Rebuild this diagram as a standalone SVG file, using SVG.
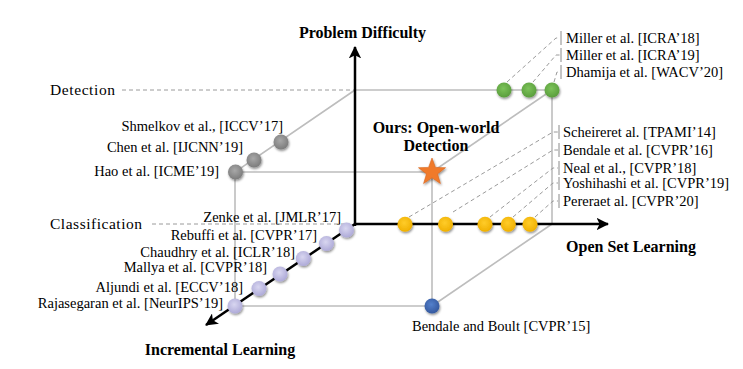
<svg xmlns="http://www.w3.org/2000/svg" width="743" height="369" viewBox="0 0 743 369">
<defs>
<style>
.t{font-family:"Liberation Serif","Times New Roman",serif;font-size:14.5px;fill:#000}
.b{font-family:"Liberation Serif","Times New Roman",serif;font-size:16px;font-weight:bold;fill:#000;text-anchor:middle}
.e{text-anchor:end}
.g{stroke:#bdbdbd;stroke-width:1.6;fill:none}
.d{stroke:#9a9a9a;stroke-width:1;stroke-dasharray:4 3;fill:none}
.tick{stroke:#8a8a8a;stroke-width:1;fill:none}
.ax{stroke:#000;stroke-width:2.5;fill:none}
.dot{filter:url(#sh)}
</style>
<filter id="sh" x="-50%" y="-50%" width="200%" height="200%">
<feDropShadow dx="0.8" dy="1.5" stdDeviation="1.3" flood-color="#000" flood-opacity="0.45"/>
</filter>
<radialGradient id="gGreen" cx="45%" cy="40%" r="60%"><stop offset="0" stop-color="#7cc35a"/><stop offset="1" stop-color="#5a9e3c"/></radialGradient>
<radialGradient id="gGray" cx="45%" cy="40%" r="60%"><stop offset="0" stop-color="#a8a8a8"/><stop offset="1" stop-color="#7c7c7c"/></radialGradient>
<radialGradient id="gPurple" cx="45%" cy="40%" r="60%"><stop offset="0" stop-color="#d8d6f0"/><stop offset="1" stop-color="#aeaad8"/></radialGradient>
<radialGradient id="gYellow" cx="45%" cy="40%" r="60%"><stop offset="0" stop-color="#ffcc2a"/><stop offset="1" stop-color="#f0b000"/></radialGradient>
<radialGradient id="gBlue" cx="45%" cy="40%" r="60%"><stop offset="0" stop-color="#5480cc"/><stop offset="1" stop-color="#34589e"/></radialGradient>
<marker id="arr" viewBox="0 0 12 12" refX="11" refY="6" markerWidth="5" markerHeight="5" orient="auto" markerUnits="strokeWidth">
<path d="M0,0 L12,6 L0,12 L3,6 Z" fill="#000"/>
</marker>
</defs>
<rect width="743" height="369" fill="#fff"/>

<g id="connectors">
<path class="g" d="M355,90 H552 V224"/>
<path class="g" d="M355,90 L235,172 H432"/>
<path class="g" d="M432,172 L552,90"/>
<path class="g" d="M235,172 V306 H432"/>
<path class="g" d="M432,172 V306"/>
<path class="g" d="M432,306 L552,224"/>
<path class="d" d="M122,90 H355"/>
<path class="d" d="M152,224 H345"/>
<path class="ax" d="M355,226 V47" marker-end="url(#arr)"/>
<path class="ax" d="M354,224 H608" marker-end="url(#arr)"/>
<path class="ax" d="M355,224 L206,325" marker-end="url(#arr)"/>
<path class="d" d="M507,82 L556,38 H560"/>
<path class="d" d="M533,82 L556,55 H560"/>
<path class="d" d="M554,82 L557,72 H560"/>
<path class="tick" d="M561,31 V45 M561,48 V62 M561,65 V79"/>
<path class="d" d="M409,217 L553,132 H558"/>
<path class="d" d="M453,212 L553,150 H558"/>
<path class="d" d="M490,217 L553,168 H558"/>
<path class="d" d="M513,217 L553,183 H558"/>
<path class="d" d="M535,217 L553,201 H558"/>
<path class="tick" d="M559,125 V139 M559,143 V157 M559,161 V175 M559,177 V190 M559,194 V208"/>
</g>

<g id="axis-labels">
<text class="b" x="362.5" y="38">Problem Difficulty</text>
<text class="b" x="631" y="252">Open Set Learning</text>
<text class="b" x="220" y="355">Incremental Learning</text>
<text class="t" x="50" y="95" textLength="65" lengthAdjust="spacing" style="font-size:15.5px">Detection</text>
<text class="t" x="50" y="229" textLength="92" lengthAdjust="spacing" style="font-size:15.5px">Classification</text>
</g>

<g id="node-ours">
<path d="M432,158 L435.4,167.4 L445.5,167.7 L437.5,173.9 L440.4,183.5 L432,177.8 L423.6,183.5 L426.5,173.9 L418.5,167.7 L428.6,167.4 Z" fill="#f07a2c" stroke="#d9661c" stroke-width="0.6" class="dot"/>
<text class="b" x="436" y="133">Ours: Open-world</text>
<text class="b" x="436" y="151">Detection</text>
</g>

<g id="node-miller18"><circle class="dot" cx="504" cy="90" r="7.5" fill="url(#gGreen)"/><text class="t" x="566" y="43">Miller et al. [ICRA’18]</text></g>
<g id="node-miller19"><circle class="dot" cx="529" cy="90" r="7.5" fill="url(#gGreen)"/><text class="t" x="566" y="60">Miller et al. [ICRA’19]</text></g>
<g id="node-dhamija"><circle class="dot" cx="552" cy="90" r="7.5" fill="url(#gGreen)"/><text class="t" x="566" y="77">Dhamija et al. [WACV’20]</text></g>

<g id="node-shmelkov"><circle class="dot" cx="281" cy="142" r="7.5" fill="url(#gGray)"/><text class="t e" x="283" y="131">Shmelkov et al., [ICCV’17]</text></g>
<g id="node-chen"><circle class="dot" cx="254" cy="160" r="7.5" fill="url(#gGray)"/><text class="t e" x="243" y="151.5">Chen et al. [IJCNN’19]</text></g>
<g id="node-hao"><circle class="dot" cx="235.5" cy="172" r="7.5" fill="url(#gGray)"/><text class="t e" x="219" y="175.5">Hao et al. [ICME’19]</text></g>

<g id="node-scheirer"><circle class="dot" cx="405" cy="224.3" r="7.5" fill="url(#gYellow)"/><text class="t" x="563" y="136.5">Scheireret al. [TPAMI’14]</text></g>
<g id="node-bendale16"><circle class="dot" cx="445.5" cy="224.3" r="7.5" fill="url(#gYellow)"/><text class="t" x="563" y="155">Bendale et al. [CVPR’16]</text></g>
<g id="node-neal"><circle class="dot" cx="485" cy="224.3" r="7.5" fill="url(#gYellow)"/><text class="t" x="563" y="173">Neal et al., [CVPR’18]</text></g>
<g id="node-yoshihashi"><circle class="dot" cx="508.3" cy="224.3" r="7.5" fill="url(#gYellow)"/><text class="t" x="563" y="188">Yoshihashi et al. [CVPR’19]</text></g>
<g id="node-perera"><circle class="dot" cx="530" cy="224.3" r="7.5" fill="url(#gYellow)"/><text class="t" x="563" y="206">Pereraet al. [CVPR’20]</text></g>

<g id="node-zenke"><circle class="dot" cx="346.5" cy="230" r="7.5" fill="url(#gPurple)"/><text class="t e" x="341" y="222">Zenke et al. [JMLR’17]</text></g>
<g id="node-rebuffi"><circle class="dot" cx="326.5" cy="243.5" r="7.5" fill="url(#gPurple)"/><text class="t e" x="317" y="240">Rebuffi et al. [CVPR’17]</text></g>
<g id="node-chaudhry"><circle class="dot" cx="303.3" cy="258.5" r="7.5" fill="url(#gPurple)"/><text class="t e" x="295" y="256.5">Chaudhry et al. [ICLR’18]</text></g>
<g id="node-mallya"><circle class="dot" cx="280" cy="274" r="7.5" fill="url(#gPurple)"/><text class="t e" x="267" y="272">Mallya et al. [CVPR’18]</text></g>
<g id="node-aljundi"><circle class="dot" cx="259" cy="288.5" r="7.5" fill="url(#gPurple)"/><text class="t e" x="243" y="291.5">Aljundi et al. [ECCV’18]</text></g>
<g id="node-rajasegaran"><circle class="dot" cx="235" cy="306" r="7.5" fill="url(#gPurple)"/><text class="t e" x="223" y="307.5">Rajasegaran et al. [NeurIPS’19]</text></g>

<g id="node-bendale15"><circle class="dot" cx="432" cy="306" r="7.5" fill="url(#gBlue)"/><text class="t" x="412" y="331">Bendale and Boult [CVPR’15]</text></g>
</svg>
